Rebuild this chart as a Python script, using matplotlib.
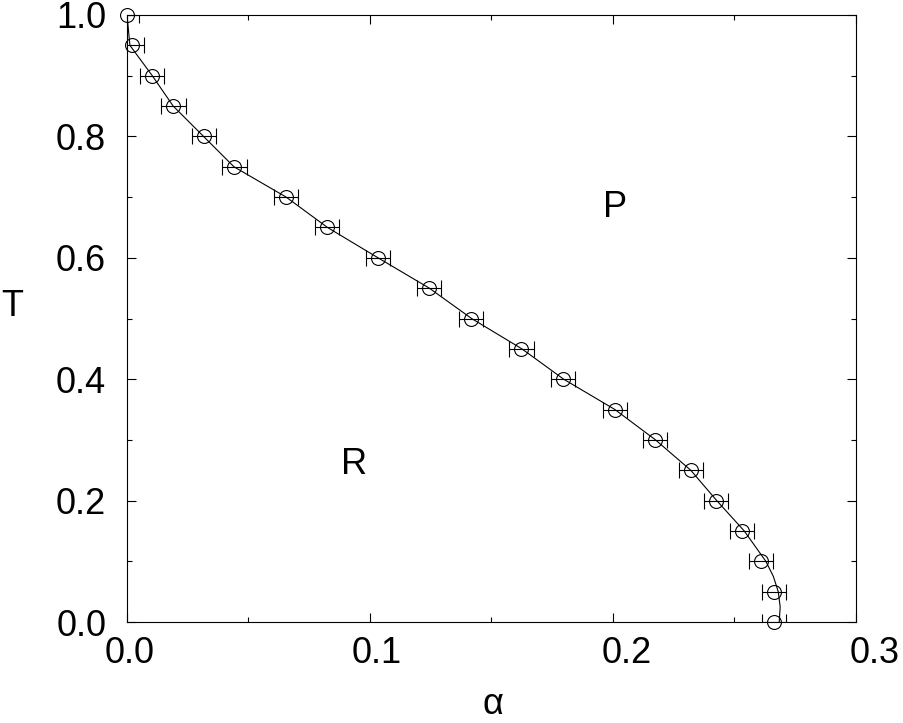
import numpy as np
import matplotlib
matplotlib.use('Agg')
import matplotlib.pyplot as plt
import matplotlib.transforms as mtransforms

plt.rcParams['font.family'] = ['Liberation Sans', 'DejaVu Sans']

# measured points (alpha_c vs T) with horizontal error bars
temp = [0.0, 0.05, 0.10, 0.15, 0.20, 0.25, 0.30, 0.35, 0.40, 0.45, 0.50,
        0.55, 0.60, 0.65, 0.70, 0.75, 0.80, 0.85, 0.90, 0.95, 1.0]
alpha = [0.2663, 0.2662, 0.2608, 0.2530, 0.2423, 0.2320, 0.2173, 0.2008,
         0.1795, 0.1623, 0.1416, 0.1244, 0.1033, 0.0823, 0.0655, 0.0442,
         0.0317, 0.0191, 0.0104, 0.0022, 0.0]
alpha_err = 0.005

# theory line
curve_T = [0.0, 0.025, 0.05, 0.075, 0.10, 0.15, 0.20, 0.25, 0.30, 0.35, 0.40,
           0.45, 0.50, 0.55, 0.60, 0.65, 0.70, 0.75, 0.80, 0.85, 0.90, 0.95,
           1.0]
curve_alpha = [0.2684, 0.2688, 0.2680, 0.2660, 0.2629, 0.2540, 0.2427,
               0.2320, 0.2175, 0.2008, 0.1797, 0.1625, 0.1418, 0.1244,
               0.1033, 0.0825, 0.0655, 0.0440, 0.0315, 0.0190, 0.0104,
               0.0012, 0.0]

fig = plt.figure(figsize=(9.04, 7.23), dpi=100)
ax = fig.add_axes([127/904, 1-622/723, 729/904, 607/723])

ax.plot(curve_alpha, curve_T, '-', color='k', lw=0.8)
ax.errorbar(alpha, temp, xerr=alpha_err, fmt='none', ecolor='k',
            elinewidth=0.8, capsize=5.5, capthick=0.8)
ax.plot(alpha, temp, 'o', ms=10, mfc='none', mec='k', mew=0.8,
        clip_on=False, zorder=5)

ax.set_xlim(0, 0.3)
ax.set_ylim(0, 1.0)
ax.set_xticks([0.0, 0.1, 0.2, 0.3])
ax.set_xticks([0.05, 0.15, 0.25], minor=True)
ax.set_yticks([0.0, 0.2, 0.4, 0.6, 0.8, 1.0])
ax.set_yticks([0.1, 0.3, 0.5, 0.7, 0.9], minor=True)
ax.set_xticklabels(['0.0', '0.1', '0.2', '0.3'])
ax.set_yticklabels(['0.0', '0.2', '0.4', '0.6', '0.8', '1.0'])
ax.tick_params(which='both', direction='in', top=True, right=True,
               labelsize=26, width=0.8)
ax.tick_params(which='major', length=6.5)
ax.tick_params(which='minor', length=3.6)
ax.tick_params(axis='x', pad=10)
ax.tick_params(axis='y', pad=15)
for sp in ax.spines.values():
    sp.set_linewidth(0.8)

# x labels sit a bit to the right of their ticks in the original
shifts = [2.5, 7, 14, 19]
for lab, dx in zip(ax.get_xticklabels(), shifts):
    lab.set_transform(lab.get_transform() +
                      mtransforms.ScaledTranslation(dx/100, 0, fig.dpi_scale_trans))

fig.text(12.5/904, 1-306/723, 'T', fontsize=26, ha='center', va='center')
fig.text(493/904, 1-704/723, 'α', fontsize=26, ha='center', va='center')

ax.text(0.2007, 0.683, 'P', fontsize=26, ha='center', va='center')
ax.text(0.0935, 0.26, 'R', fontsize=26, ha='center', va='center')

fig.savefig('out.png', dpi=100)
